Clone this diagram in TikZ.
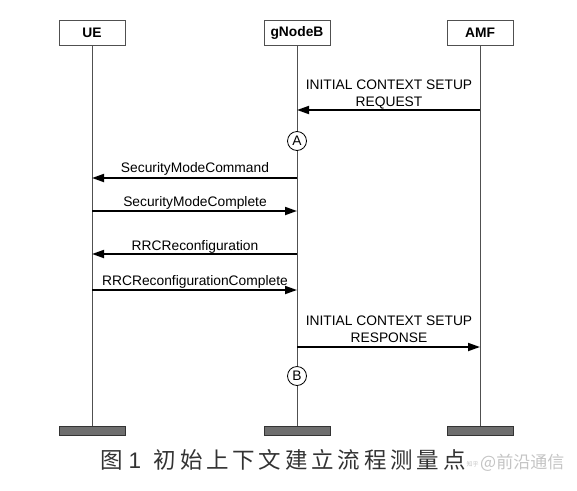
\documentclass[tikz,border=0pt]{standalone}
\usepackage{fontspec}
\setmainfont{Liberation Sans}
\newfontfamily\cjk{Noto Sans CJK SC}
\usetikzlibrary{arrows.meta}
\definecolor{lifegray}{HTML}{505050}
\definecolor{barfill}{HTML}{6E6E6E}
\definecolor{captiongray}{HTML}{333333}
\definecolor{wmgray}{HTML}{C4C4C4}
\tikzset{
  headbox/.style={draw=lifegray, line width=0.9pt, fill=white, minimum width=66pt, minimum height=25pt, inner sep=0pt, font=\fontsize{13.8}{14}\selectfont\bfseries},
  endbar/.style={draw=black!80, line width=0.7pt, fill=barfill, minimum width=66pt, minimum height=9pt, inner sep=0pt},
  lifeline/.style={draw=lifegray, line width=0.9pt},
  msg/.style={draw=black, line width=1.8pt, -{Triangle[length=12pt,width=8pt]}},
  msgtext/.style={anchor=base, inner sep=0pt, font=\fontsize{13.8}{14}\selectfont},
  marker/.style={circle, draw=black, line width=0.8pt, fill=white, minimum size=19pt, inner sep=0pt, font=\fontsize{13.8}{14}\selectfont},
  captchar/.style={anchor=base, inner sep=0pt, text=captiongray, font=\cjk\fontsize{22.5}{24}\selectfont},
}
\begin{document}
\begin{tikzpicture}[x=1pt,y=-1pt]
\useasboundingbox (0,0) rectangle (577,490);
% head boxes
\node[headbox] (UE) at (92,32.5) {UE};
\node[headbox] (GNB) at (297,32.5) {gNodeB};
\node[headbox] (AMF) at (480,32.5) {AMF};
% bottom bars
\node[endbar] (UEend) at (92,430.5) {};
\node[endbar] (GNBend) at (297,430.5) {};
\node[endbar] (AMFend) at (480,430.5) {};
% lifelines
\draw[lifeline] (UE.south) -- (UEend.north);
\draw[lifeline] (GNB.south) -- (GNBend.north);
\draw[lifeline] (AMF.south) -- (AMFend.north);
% message end points
\coordinate (a1) at (480,110); \coordinate (g1) at (297,110);
\coordinate (g2) at (297,178); \coordinate (u2) at (92,178);
\coordinate (u3) at (92,211); \coordinate (g3) at (297,211);
\coordinate (g4) at (297,254); \coordinate (u4) at (92,254);
\coordinate (u5) at (92,290); \coordinate (g5) at (297,290);
\coordinate (g6) at (297,347); \coordinate (a6) at (480,347);
% messages
\draw[msg] (a1) -- (g1);
\node[msgtext] (t1a) at (389,89.3) {INITIAL CONTEXT SETUP};
\node[msgtext] (t1b) at (389,106) {REQUEST};
\node[marker] (A) at (297,141) {A};
\draw[msg] (g2) -- (u2);
\node[msgtext] (t2) at (195,172.5) {SecurityModeCommand};
\draw[msg] (u3) -- (g3);
\node[msgtext] (t3) at (195,206.5) {SecurityModeComplete};
\draw[msg] (g4) -- (u4);
\node[msgtext] (t4) at (195,250) {RRCReconfiguration};
\draw[msg] (u5) -- (g5);
\node[msgtext] (t5) at (195,285.7) {RRCReconfigurationComplete};
\draw[msg] (g6) -- (a6);
\node[msgtext] (t6a) at (389,325.7) {INITIAL CONTEXT SETUP};
\node[msgtext] (t6b) at (389,342.7) {RESPONSE};
\node[marker] (B) at (297,376) {B};
% caption
\node[captchar] (c0) at (112,468) {图};
\node[captchar, font=\fontsize{22.5}{24}\selectfont] (c1) at (135,468) {1};
\foreach \ch [count=\i from 0] in {初,始,上,下,文,建,立,流,程,测,量,点}{
  \node[captchar] (cc\i) at (165+26.3*\i,468) {\ch};
}
% watermark
\node[anchor=base, inner sep=0pt, text=wmgray, font=\cjk\fontsize{6}{7}\selectfont] (wm1) at (472.5,466) {知乎};
\node[anchor=base west, inner sep=0pt, text=wmgray, font=\cjk\fontsize{17}{18}\selectfont] (wm2) at (480,468) {@前沿通信};
\end{tikzpicture}
\end{document}
